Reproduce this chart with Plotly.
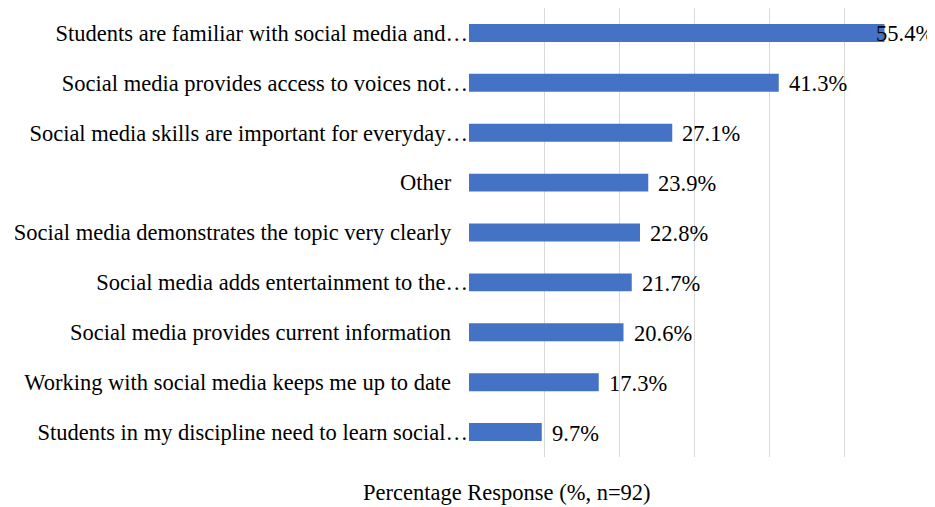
import plotly.graph_objects as go

categories = [
    "Students are familiar with social media and…",
    "Social media provides access to voices not…",
    "Social media skills are important for everyday…",
    "Other",
    "Social media demonstrates the topic very clearly",
    "Social media adds entertainment to the…",
    "Social media provides current information",
    "Working with social media keeps me up to date",
    "Students in my discipline need to learn social…",
]
values = [55.4, 41.3, 27.1, 23.9, 22.8, 21.7, 20.6, 17.3, 9.7]
value_labels = ["55.4%", "41.3%", "27.1%", "23.9%", "22.8%", "21.7%", "20.6%", "17.3%", "9.7%"]
x_title = "Percentage Response (%, n=92)"

FONT = "Liberation Serif, Times New Roman, serif"
FS = 22.5

ticktext = [c if c.endswith("…") else c + "\u00a0" * 3 for c in categories]

fig = go.Figure()
fig.add_trace(go.Bar(
    x=values, y=categories, orientation="h",
    marker=dict(color="#4472C4", line=dict(width=0)),
    width=0.36,
    hoverinfo="skip",
))

for i, (v, c, t) in enumerate(zip(values, categories, value_labels)):
    fig.add_annotation(
        x=v, y=c, xref="x", yref="y", text=t, showarrow=False,
        xanchor="left", yanchor="middle",
        xshift=(-11 if i == 0 else 8), yshift=-1,
        font=dict(family=FONT, size=FS, color="#000000"),
    )

fig.add_annotation(
    x=0.0844, y=-0.078, xref="paper", yref="paper", text=x_title,
    showarrow=False, xanchor="center", yanchor="middle",
    font=dict(family=FONT, size=FS, color="#000000"),
)

fig.update_layout(
    width=927, height=499,
    margin=dict(l=461, r=16, t=0, b=50, autoexpand=False),
    paper_bgcolor="white", plot_bgcolor="white",
    showlegend=False,
    font=dict(family=FONT, size=FS, color="#000000"),
)
fig.update_xaxes(
    range=[0, 60], dtick=10, showticklabels=False,
    showgrid=True, gridcolor="#D9D9D9", gridwidth=1,
    zeroline=False, showline=False, ticks="",
)
fig.update_yaxes(
    categoryorder="array", categoryarray=categories[::-1],
    tickvals=categories, ticktext=ticktext,
    ticks="", showline=False, showgrid=False, zeroline=False,
    ticklabelstandoff=0,
    tickfont=dict(family=FONT, size=FS, color="#000000"),
)

fig.write_html("out.html")
